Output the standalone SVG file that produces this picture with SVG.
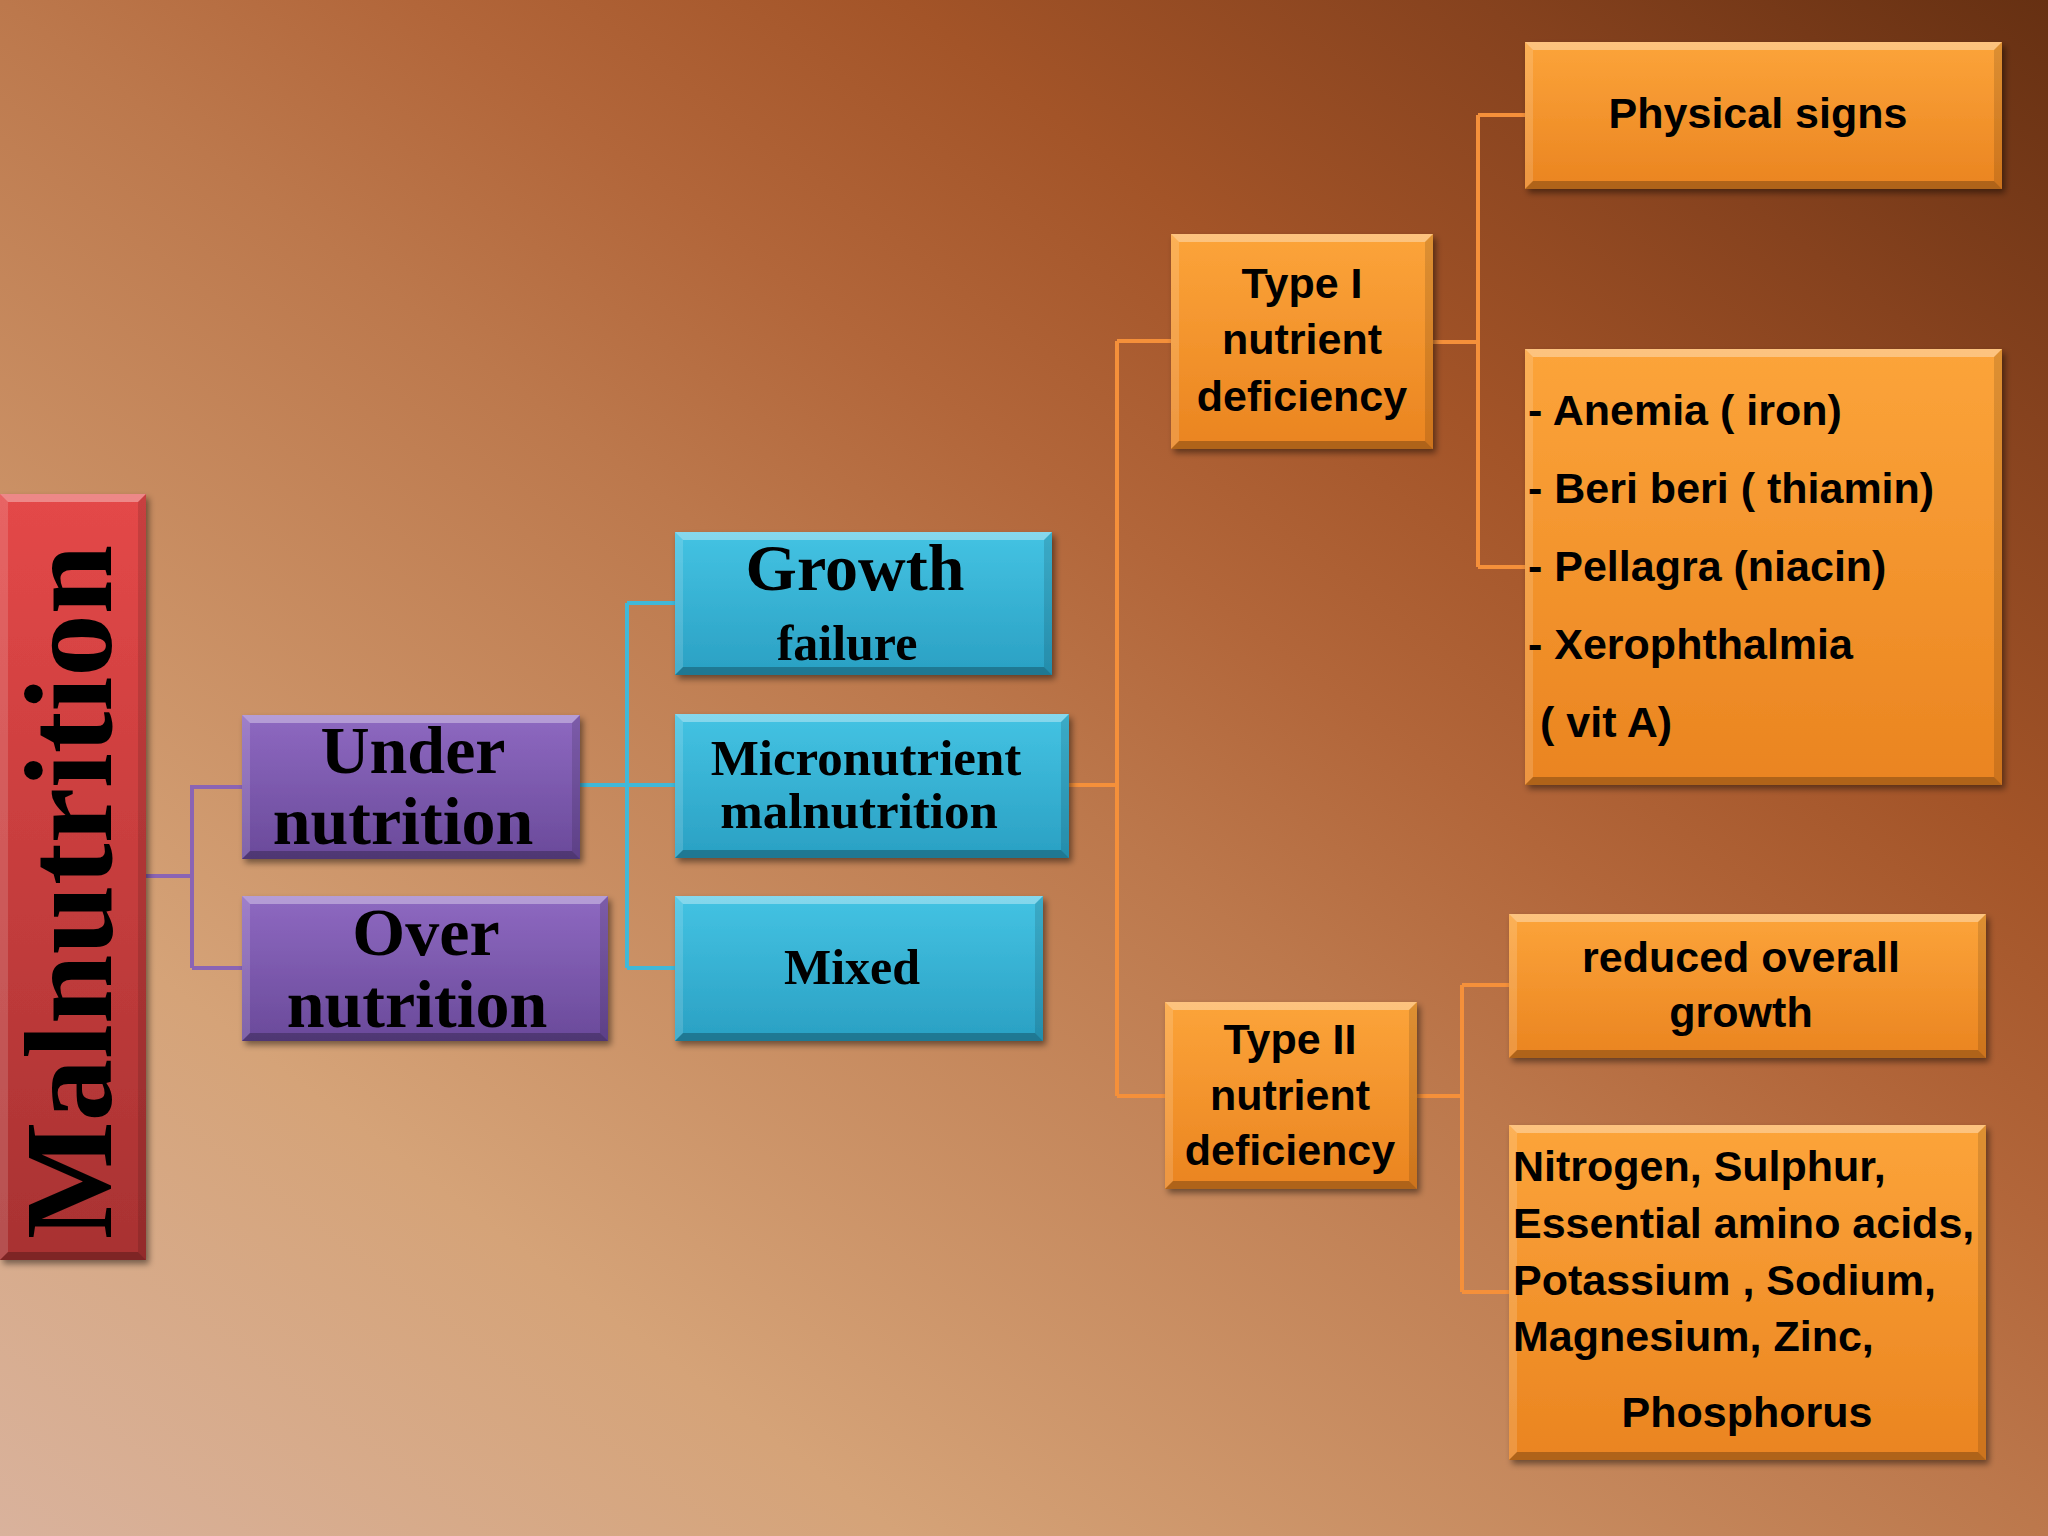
<svg xmlns="http://www.w3.org/2000/svg" width="2048" height="1536" viewBox="0 0 2048 1536">
<defs>
<linearGradient id="bg" x1="0" y1="1" x2="1" y2="0">
<stop offset="0" stop-color="#d9b29c"/>
<stop offset="0.22" stop-color="#d5a378"/>
<stop offset="0.5" stop-color="#bc784c"/>
<stop offset="0.6" stop-color="#b2663a"/>
<stop offset="0.72" stop-color="#a35428"/>
<stop offset="0.86" stop-color="#86421e"/>
<stop offset="1" stop-color="#663012"/>
</linearGradient>
<linearGradient id="gOr" x1="0" y1="0" x2="0" y2="1">
<stop offset="0" stop-color="#fca43a"/>
<stop offset="1" stop-color="#ea8420"/>
</linearGradient>
<linearGradient id="gCy" x1="0" y1="0" x2="0" y2="1">
<stop offset="0" stop-color="#44c3e3"/>
<stop offset="1" stop-color="#2aa0c3"/>
</linearGradient>
<linearGradient id="gPu" x1="0" y1="0" x2="0" y2="1">
<stop offset="0" stop-color="#8e69c1"/>
<stop offset="1" stop-color="#6a4a9a"/>
</linearGradient>
<linearGradient id="gRd" x1="0" y1="0" x2="0" y2="1">
<stop offset="0" stop-color="#e44848"/>
<stop offset="1" stop-color="#a83232"/>
</linearGradient>
<filter id="sh" x="-10%" y="-10%" width="130%" height="130%">
<feDropShadow dx="3" dy="4" stdDeviation="3" flood-color="#000" flood-opacity="0.45"/>
</filter>
</defs>
<style>
.or{fill:url(#gOr)}
.cy{fill:url(#gCy)}
.pu{fill:url(#gPu)}
.rd{fill:url(#gRd)}
.box{filter:url(#sh)}
.bt{fill:#fff;fill-opacity:0.35}
.bl{fill:#fff;fill-opacity:0.15}
.br{fill:#000;fill-opacity:0.12}
.bb{fill:#000;fill-opacity:0.25}
.serif{font-family:"Liberation Serif","Times New Roman",serif;font-weight:bold;fill:#000}
.sans{font-family:"Liberation Sans",Arial,sans-serif;font-weight:bold;fill:#000;font-size:43px}
.mid{text-anchor:middle}
.cp{stroke:#8a64b4;stroke-width:4;fill:none}
.cc{stroke:#40b8d8;stroke-width:4;fill:none}
.co{stroke:#f5903a;stroke-width:4;fill:none}
</style>
<rect x="0" y="0" width="2048" height="1536" fill="url(#bg)"/>
<g id="connectors">
<path class="cp" d="M146,876 H192 M192,785 V968 M192,787 H242 M192,968 H242"/>
<path class="cc" d="M580,785 H675 M627,603 V968 M627,603 H675 M627,968 H675"/>
<path class="co" d="M1069,785 H1117 M1117,341 V1096 M1117,341 H1171 M1117,1096 H1165"/>
<path class="co" d="M1433,342 H1478 M1478,115 V567 M1478,115 H1525 M1478,567 H1525"/>
<path class="co" d="M1417,1096 H1462 M1462,985 V1292 M1462,985 H1509 M1462,1292 H1509"/>
</g>
<g id="malnutrition">
<rect class="rd box" x="0" y="494" width="146" height="766"/>
<polygon class="bt" points="0,494 146,494 138,502 8,502"/>
<polygon class="bl" points="0,494 8,502 8,1252 0,1260"/>
<polygon class="br" points="146,494 146,1260 138,1252 138,502"/>
<polygon class="bb" points="0,1260 146,1260 138,1252 8,1252"/>
<text class="serif mid" font-size="125" transform="translate(111,892) rotate(-90)">Malnutrition</text>
</g>
<g id="under-nutrition">
<rect class="pu box" x="242" y="715" width="338" height="144"/>
<polygon class="bt" points="242,715 580,715 572,723 250,723"/>
<polygon class="bl" points="242,715 250,723 250,851 242,859"/>
<polygon class="br" points="580,715 580,859 572,851 572,723"/>
<polygon class="bb" points="242,859 580,859 572,851 250,851"/>
<text class="serif mid" font-size="68" x="413" y="773">Under</text>
<text class="serif mid" font-size="68" x="403" y="844">nutrition</text>
</g>
<g id="over-nutrition">
<rect class="pu box" x="242" y="896" width="366" height="145"/>
<polygon class="bt" points="242,896 608,896 600,904 250,904"/>
<polygon class="bl" points="242,896 250,904 250,1033 242,1041"/>
<polygon class="br" points="608,896 608,1041 600,1033 600,904"/>
<polygon class="bb" points="242,1041 608,1041 600,1033 250,1033"/>
<text class="serif mid" font-size="68" x="426" y="955">Over</text>
<text class="serif mid" font-size="68" x="417" y="1027">nutrition</text>
</g>
<g id="growth-failure">
<rect class="cy box" x="675" y="532" width="377" height="143"/>
<polygon class="bt" points="675,532 1052,532 1044,540 683,540"/>
<polygon class="bl" points="675,532 683,540 683,667 675,675"/>
<polygon class="br" points="1052,532 1052,675 1044,667 1044,540"/>
<polygon class="bb" points="675,675 1052,675 1044,667 683,667"/>
<text class="serif mid" font-size="66" x="855" y="590">Growth</text>
<text class="serif mid" font-size="50" x="847" y="660">failure</text>
</g>
<g id="micronutrient-malnutrition">
<rect class="cy box" x="675" y="714" width="394" height="144"/>
<polygon class="bt" points="675,714 1069,714 1061,722 683,722"/>
<polygon class="bl" points="675,714 683,722 683,850 675,858"/>
<polygon class="br" points="1069,714 1069,858 1061,850 1061,722"/>
<polygon class="bb" points="675,858 1069,858 1061,850 683,850"/>
<text class="serif mid" font-size="51" x="866" y="775">Micronutrient</text>
<text class="serif mid" font-size="51" x="859" y="828">malnutrition</text>
</g>
<g id="mixed">
<rect class="cy box" x="675" y="896" width="368" height="145"/>
<polygon class="bt" points="675,896 1043,896 1035,904 683,904"/>
<polygon class="bl" points="675,896 683,904 683,1033 675,1041"/>
<polygon class="br" points="1043,896 1043,1041 1035,1033 1035,904"/>
<polygon class="bb" points="675,1041 1043,1041 1035,1033 683,1033"/>
<text class="serif mid" font-size="50" x="852" y="984">Mixed</text>
</g>
<g id="type-1">
<rect class="or box" x="1171" y="234" width="262" height="215"/>
<polygon class="bt" points="1171,234 1433,234 1425,242 1179,242"/>
<polygon class="bl" points="1171,234 1179,242 1179,441 1171,449"/>
<polygon class="br" points="1433,234 1433,449 1425,441 1425,242"/>
<polygon class="bb" points="1171,449 1433,449 1425,441 1179,441"/>
<text class="sans mid" x="1302" y="298">Type I</text>
<text class="sans mid" x="1302" y="354">nutrient</text>
<text class="sans mid" x="1302" y="411">deficiency</text>
</g>
<g id="type-2">
<rect class="or box" x="1165" y="1002" width="252" height="187"/>
<polygon class="bt" points="1165,1002 1417,1002 1409,1010 1173,1010"/>
<polygon class="bl" points="1165,1002 1173,1010 1173,1181 1165,1189"/>
<polygon class="br" points="1417,1002 1417,1189 1409,1181 1409,1010"/>
<polygon class="bb" points="1165,1189 1417,1189 1409,1181 1173,1181"/>
<text class="sans mid" x="1290" y="1054">Type II</text>
<text class="sans mid" x="1290" y="1110">nutrient</text>
<text class="sans mid" x="1290" y="1165">deficiency</text>
</g>
<g id="physical-signs">
<rect class="or box" x="1525" y="42" width="477" height="147"/>
<polygon class="bt" points="1525,42 2002,42 1994,50 1533,50"/>
<polygon class="bl" points="1525,42 1533,50 1533,181 1525,189"/>
<polygon class="br" points="2002,42 2002,189 1994,181 1994,50"/>
<polygon class="bb" points="1525,189 2002,189 1994,181 1533,181"/>
<text class="sans mid" x="1758" y="128">Physical signs</text>
</g>
<g id="type-1-examples">
<rect class="or box" x="1525" y="349" width="477" height="436"/>
<polygon class="bt" points="1525,349 2002,349 1994,357 1533,357"/>
<polygon class="bl" points="1525,349 1533,357 1533,777 1525,785"/>
<polygon class="br" points="2002,349 2002,785 1994,777 1994,357"/>
<polygon class="bb" points="1525,785 2002,785 1994,777 1533,777"/>
<text class="sans" x="1528" y="425">- Anemia ( iron)</text>
<text class="sans" x="1528" y="503">- Beri beri ( thiamin)</text>
<text class="sans" x="1528" y="581">- Pellagra (niacin)</text>
<text class="sans" x="1528" y="659">- Xerophthalmia</text>
<text class="sans" x="1540" y="737">( vit A)</text>
</g>
<g id="reduced-growth">
<rect class="or box" x="1509" y="914" width="477" height="144"/>
<polygon class="bt" points="1509,914 1986,914 1978,922 1517,922"/>
<polygon class="bl" points="1509,914 1517,922 1517,1050 1509,1058"/>
<polygon class="br" points="1986,914 1986,1058 1978,1050 1978,922"/>
<polygon class="bb" points="1509,1058 1986,1058 1978,1050 1517,1050"/>
<text class="sans mid" x="1741" y="972">reduced overall</text>
<text class="sans mid" x="1741" y="1027">growth</text>
</g>
<g id="type-2-examples">
<rect class="or box" x="1509" y="1125" width="477" height="335"/>
<polygon class="bt" points="1509,1125 1986,1125 1978,1133 1517,1133"/>
<polygon class="bl" points="1509,1125 1517,1133 1517,1452 1509,1460"/>
<polygon class="br" points="1986,1125 1986,1460 1978,1452 1978,1133"/>
<polygon class="bb" points="1509,1460 1986,1460 1978,1452 1517,1452"/>
<text class="sans" x="1513" y="1181">Nitrogen, Sulphur,</text>
<text class="sans" x="1513" y="1238">Essential amino acids,</text>
<text class="sans" x="1513" y="1295">Potassium , Sodium,</text>
<text class="sans" x="1513" y="1351">Magnesium, Zinc,</text>
<text class="sans mid" x="1747" y="1427">Phosphorus</text>
</g>
</svg>
